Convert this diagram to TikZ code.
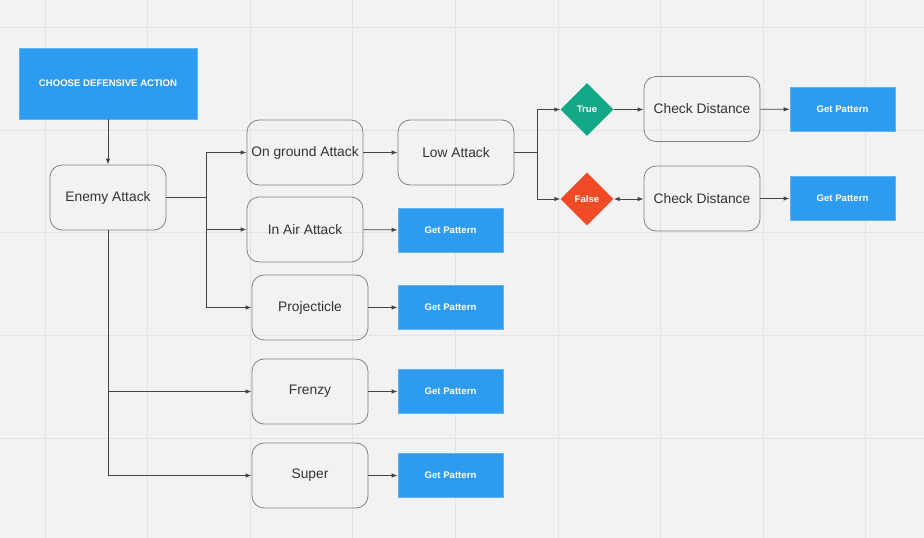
\documentclass[tikz,border=0pt]{standalone}
\usepackage{fontspec}
\setmainfont{Liberation Sans}
\usetikzlibrary{arrows.meta,shapes.geometric}
\definecolor{boardgrey}{RGB}{242,242,242}
\definecolor{gridgrey}{RGB}{228,228,228}
\definecolor{edgegrey}{RGB}{68,68,68}
\definecolor{boxgrey}{RGB}{130,130,130}
\definecolor{inkgrey}{RGB}{51,51,51}
\definecolor{patternblue}{RGB}{45,155,240}
\definecolor{truegreen}{RGB}{18,168,134}
\definecolor{falsered}{RGB}{240,74,38}

\begin{document}
\begin{tikzpicture}[x=1pt, y=-1pt, >={Latex[length=6pt,width=4.5pt]},
  actionbox/.style={draw=boxgrey, line width=0.8pt, rounded corners=12pt, minimum width=116pt, minimum height=65pt, inner sep=2pt, text=inkgrey, font=\fontsize{13.8}{16}\selectfont},
  patternbox/.style={fill=patternblue, draw=patternblue!75!white, line width=0.8pt, minimum width=105pt, minimum height=44pt, inner sep=2pt, text=white, font=\fontsize{9.6}{11}\selectfont\bfseries},
  choice/.style={diamond, minimum width=53pt, minimum height=53pt, inner sep=0pt, text=white, font=\fontsize{9.6}{11}\selectfont\bfseries},
  wire/.style={draw=edgegrey, line width=0.9pt}]

% Board and grid
\fill[boardgrey] (0,0) rectangle (924,538);
\useasboundingbox (0,0) rectangle (924,538);
\foreach \gx in {0,...,8} \draw[gridgrey, line width=0.8pt] ({45+102.6*\gx},0) -- ({45+102.6*\gx},538);
\foreach \gy in {0,...,4} \draw[gridgrey, line width=0.8pt] (0,{27.5+102.6*\gy}) -- (924,{27.5+102.6*\gy});

% Start
\node[patternbox, minimum width=178pt, minimum height=71pt] (choose) at (108,83.5) {CHOOSE DEFENSIVE ACTION};

% Attack kinds
\node[actionbox] (enemy) at (108,197.5) {Enemy Attack};
\node[actionbox] (ground) at (305,152.5) {On ground Attack};
\node[actionbox] (air) at (305,229.5) {In Air Attack};
\node[actionbox] (projectile) at (310,307.5) {Projecticle};
\node[actionbox] (frenzy) at (310,391.5) {Frenzy};
\node[actionbox] (super) at (310,475.5) {Super};
\node[actionbox] (low) at (456,152.5) {Low Attack};

% Decisions
\node[choice, fill=truegreen] (yes) at (587,109.5) {True};
\node[choice, fill=falsered] (no) at (587,199) {False};
\node[actionbox] (checkA) at (702,109) {Check Distance};
\node[actionbox] (checkB) at (702,198.5) {Check Distance};

% Patterns
\node[patternbox] (patA) at (842.5,109.5) {Get Pattern};
\node[patternbox] (patB) at (842.5,198.5) {Get Pattern};
\node[patternbox] (patAir) at (450.5,230) {Get Pattern};
\node[patternbox] (patProj) at (450.5,307.5) {Get Pattern};
\node[patternbox] (patFrenzy) at (450.5,391.5) {Get Pattern};
\node[patternbox] (patSuper) at (450.5,475.5) {Get Pattern};

% Connectors
\draw[wire, ->] (choose) -- (enemy);
\draw[wire, line width=1.4pt] (enemy.east) -- ++(40,0) coordinate (splitA);
\draw[wire, ->] (splitA) |- (ground.west);
\draw[wire, ->] (splitA) |- (air.west);
\draw[wire, ->] (splitA) |- (projectile.west);
\draw[wire, ->] (enemy.south) |- (frenzy.west);
\draw[wire, ->] (enemy.south) |- (super.west);

\draw[wire, ->] (ground) -- (low);
\draw[wire] (low.east) -- ++(23,0) coordinate (splitB);
\draw[wire, ->] (splitB) |- (yes.west);
\draw[wire, ->] (splitB) |- (no.west);
\draw[wire, ->] (yes) -- (yes -| checkA.west);
\draw[wire, <->] (no) -- (no -| checkB.west);
\draw[wire, ->] (checkA) -- (patA);
\draw[wire, ->] (checkB) -- (patB);

\draw[wire, ->] (air) -- (patAir);
\draw[wire, ->] (projectile) -- (patProj);
\draw[wire, ->] (frenzy) -- (patFrenzy);
\draw[wire, ->] (super) -- (patSuper);

\end{tikzpicture}
\end{document}
